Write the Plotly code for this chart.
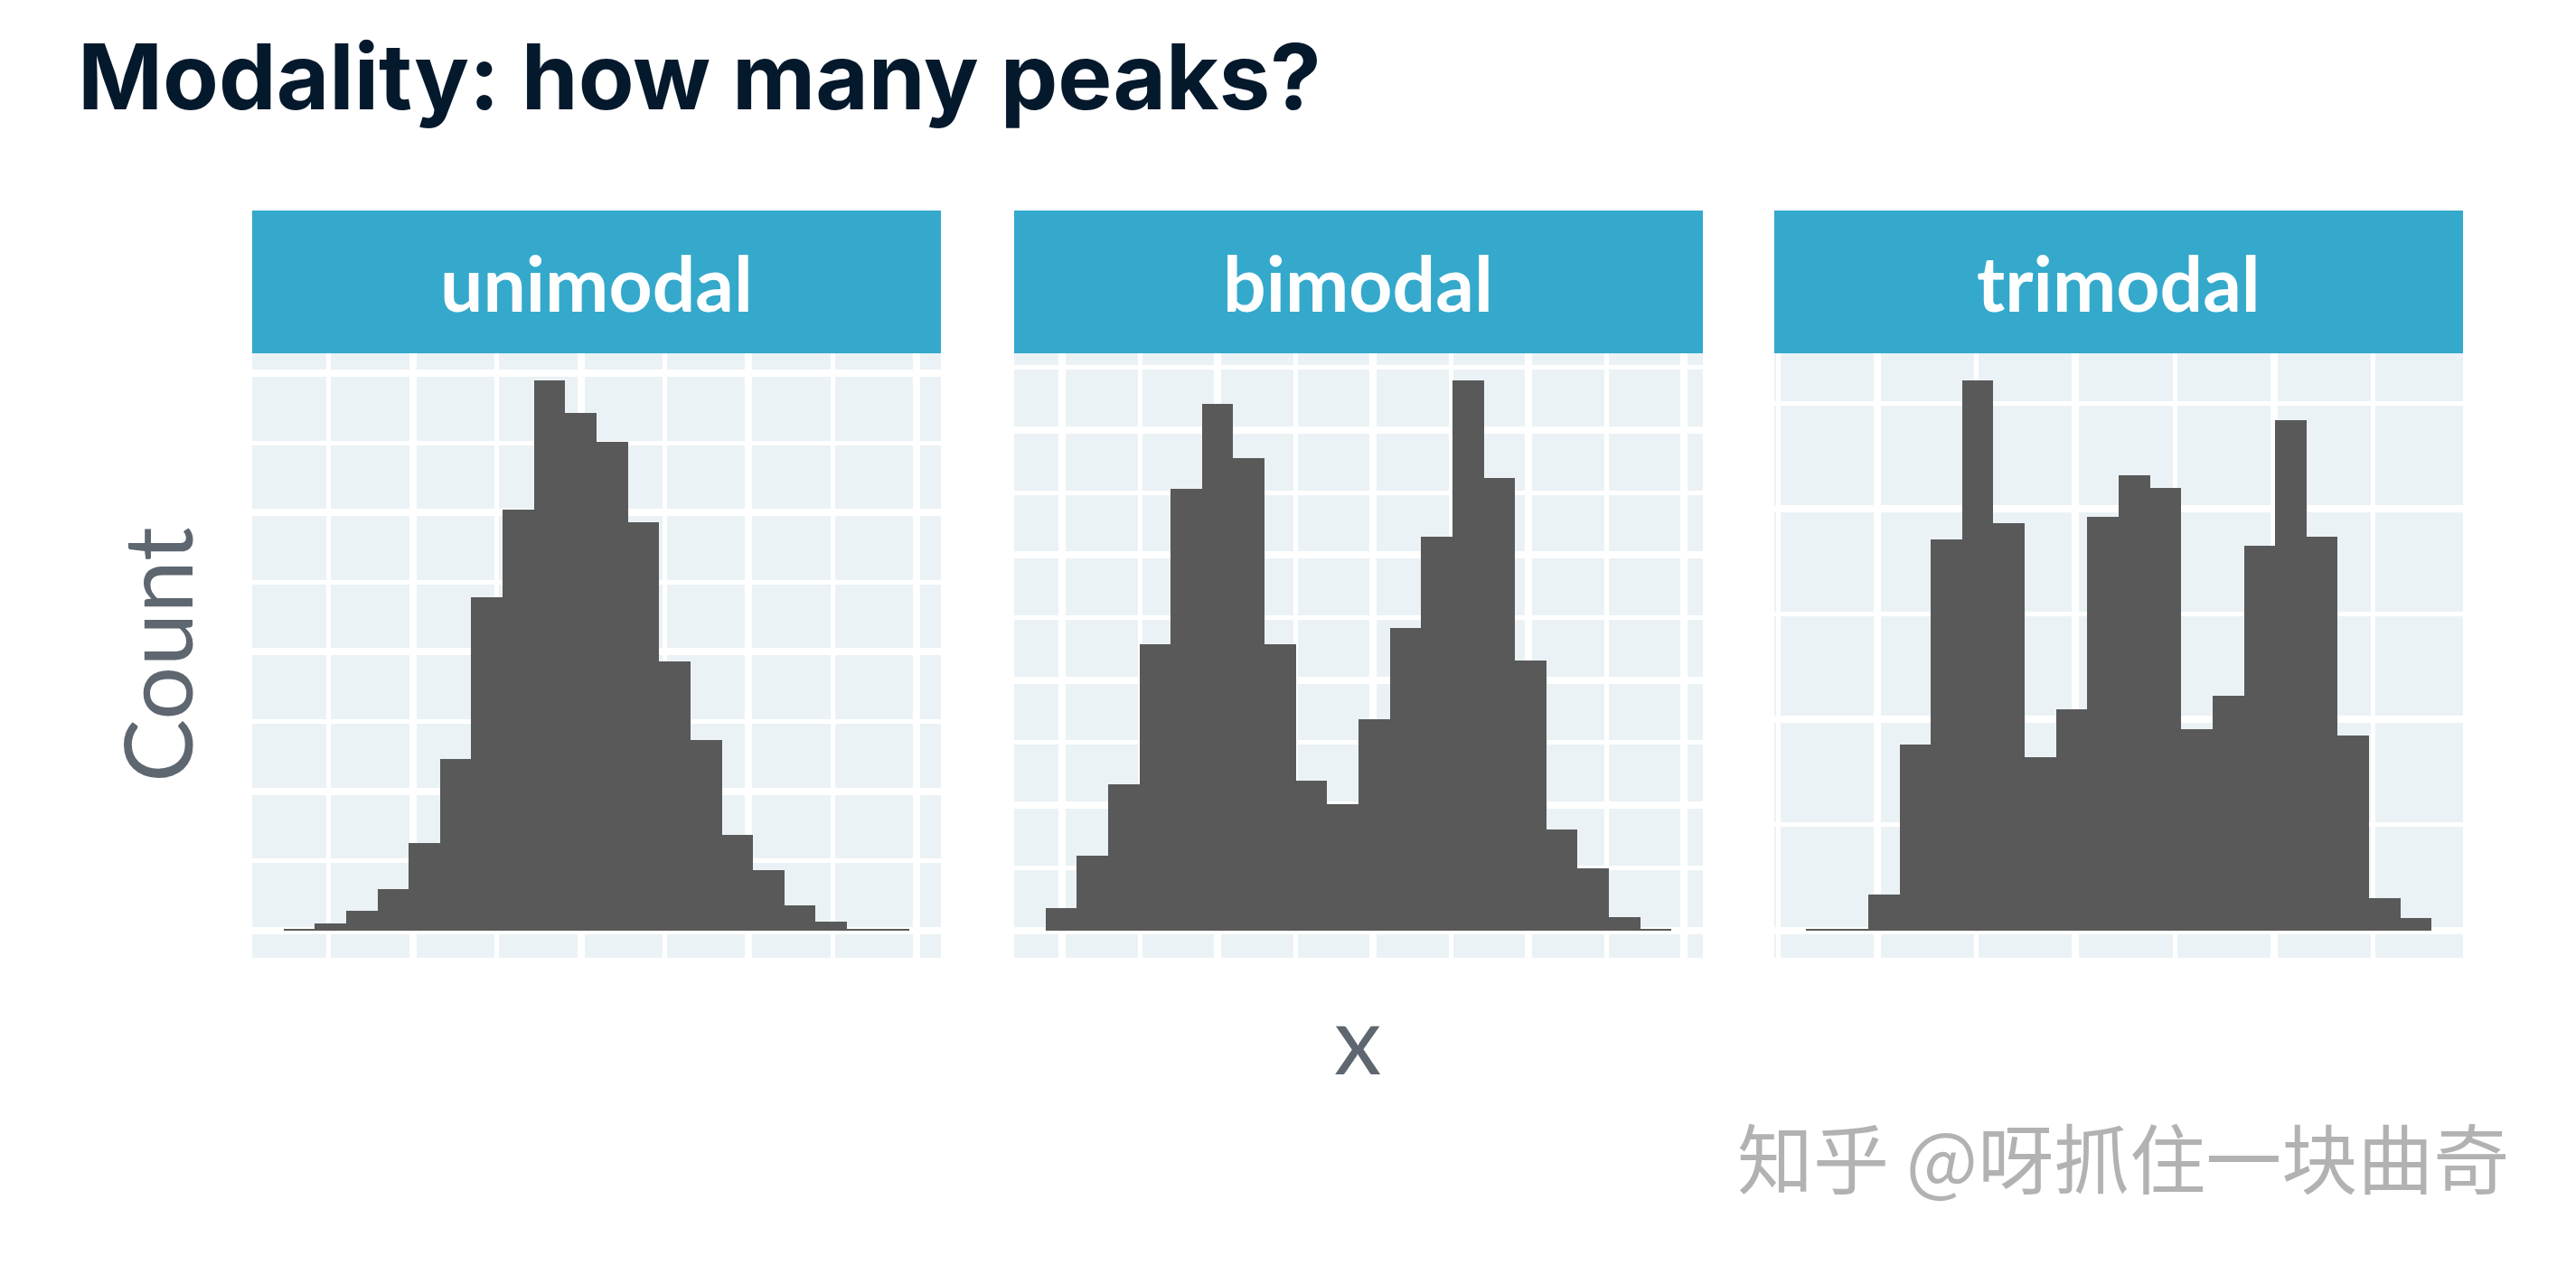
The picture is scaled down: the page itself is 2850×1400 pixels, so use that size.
import plotly.graph_objects as go

# ---------------- data ----------------
panel_titles = ["unimodal", "bimodal", "trimodal"]

unimodal_counts = [0.3, 2.6, 7.0, 14.9, 31.2, 61.4, 119.6, 151.2, 197.4, 186.0,
                   175.4, 146.5, 96.5, 68.4, 34.4, 21.7, 8.9, 3.1, 0.6, 0.3]
bimodal_counts = [9.0, 30.0, 58.4, 114.3, 176.6, 210.5, 188.7, 114.3, 60.0, 50.6,
                  84.5, 120.7, 157.4, 219.7, 180.9, 108.0, 40.4, 24.7, 5.1, 0.4]
trimodal_counts = [0.4, 0.4, 17.0, 88.1, 185.6, 260.7, 193.3, 82.1, 104.9, 196.1,
                   215.8, 210.0, 95.6, 111.2, 182.3, 242.1, 186.8, 92.6, 15.3, 6.0]

all_counts = [unimodal_counts, bimodal_counts, trimodal_counts]
bin_starts = [-0.77, -0.109, -0.363]      # left edge of first bin (x units)
bin_widths = [0.1864, 0.2015, 0.158]     # histogram bin width (x units)
y_major_step = [50, 50, 100]
x_major_step = [1, 1, 1]

title_text = "Modality: how many peaks?"
y_label = "Count"
x_label = "x"
watermark = "知乎 @呀抓住一块曲奇"

# ---------------- layout geometry (page pixels) ----------------
PAGE_W, PAGE_H = 2850, 1400
OFF = 8                      # default body margin of the html page
W, H = PAGE_W - OFF, PAGE_H - OFF


def fx(px):
    return (px - OFF) / W


def fy(py):
    return 1 - (py - OFF) / H


panel_x = [(279, 1041), (1122, 1884), (1963, 2725)]
panel_y = (391, 1060)
strip_y = (233, 391)

BAR = "#595959"
PANEL_BG = "#EBF2F6"
STRIP = "#34A9CC"
TITLE_C = "#05192D"
LABEL_C = "#5E6770"

fig = go.Figure()
layout = dict(
    width=W, height=H,
    margin=dict(l=0, r=0, t=0, b=0),
    paper_bgcolor="white",
    plot_bgcolor=PANEL_BG,
    showlegend=False,
    bargap=0,
)

shapes = []
annotations = []

for i in range(3):
    counts = all_counts[i]
    n = len(counts)
    bw = bin_widths[i]
    x0 = bin_starts[i]
    centers = [x0 + (k + 0.5) * bw for k in range(n)]
    span = n * bw
    xr = [x0 - 0.05 * span, x0 + span + 0.05 * span]
    ymax = max(counts)
    yr = [-0.05 * ymax, 1.05 * ymax]
    sfx = "" if i == 0 else str(i + 1)

    fig.add_trace(go.Bar(
        x=centers, y=counts, width=bw,
        marker=dict(color=BAR, line=dict(width=0)),
        xaxis="x" + sfx, yaxis="y" + sfx,
        hoverinfo="skip",
    ))

    px0, px1 = panel_x[i]
    common = dict(showgrid=True, gridcolor="white", gridwidth=8,
                  showticklabels=False, ticks="", zeroline=False, showline=False,
                  fixedrange=True, tickmode="linear", tick0=0)
    layout["xaxis" + sfx] = dict(
        domain=[fx(px0), fx(px1)], range=xr, anchor="y" + sfx,
        dtick=x_major_step[i],
        minor=dict(showgrid=True, gridcolor="white", gridwidth=4.5,
                   dtick=x_major_step[i] / 2, tick0=0),
        **common)
    layout["yaxis" + sfx] = dict(
        domain=[fy(panel_y[1]), fy(panel_y[0])], range=yr, anchor="x" + sfx,
        dtick=y_major_step[i],
        minor=dict(showgrid=True, gridcolor="white", gridwidth=4.5,
                   dtick=y_major_step[i] / 2, tick0=0),
        **common)

    shapes.append(dict(type="rect", xref="paper", yref="paper",
                       x0=fx(px0), x1=fx(px1),
                       y0=fy(strip_y[1]), y1=fy(strip_y[0]),
                       fillcolor=STRIP, line=dict(width=0)))
    annotations.append(dict(
        text=panel_titles[i], xref="paper", yref="paper",
        x=fx((px0 + px1) / 2), y=fy(sum(strip_y) / 2),
        xanchor="center", yanchor="middle", showarrow=False,
        font=dict(family="Lato", size=84, color="white", weight=700)))

annotations.append(dict(
    text=title_text, xref="paper", yref="paper",
    x=fx(84), y=fy(84), xanchor="left", yanchor="middle", showarrow=False,
    font=dict(family="Inter", size=101, color=TITLE_C, weight=700)))

annotations.append(dict(
    text=y_label, xref="paper", yref="paper",
    x=fx(172), y=fy(725), xanchor="center", yanchor="middle",
    textangle=-90, showarrow=False,
    font=dict(family="Lato", size=105, color=LABEL_C)))

annotations.append(dict(
    text=x_label, xref="paper", yref="paper",
    x=fx(1502), y=fy(1148), xanchor="center", yanchor="middle",
    showarrow=False,
    font=dict(family="Lato", size=105, color=LABEL_C)))

annotations.append(dict(
    text=watermark, xref="paper", yref="paper",
    x=fx(2349), y=fy(1278), xanchor="center", yanchor="middle",
    showarrow=False,
    font=dict(family="Noto Sans CJK SC", size=84, color="#B2B2B2")))

layout["shapes"] = shapes
layout["annotations"] = annotations
fig.update_layout(**layout)

fig.write_html("out.html", config=dict(displayModeBar=False))
